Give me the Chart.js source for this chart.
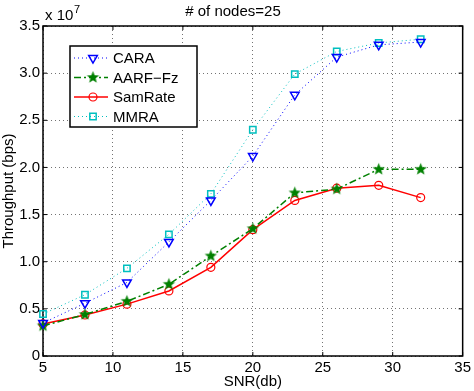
<!DOCTYPE html>
<html>
<head>
<meta charset="utf-8">
<script src="https://cdn.jsdelivr.net/npm/chart.js@4"></script>
<style>
  body { margin: 0; background: #fff; }
</style>
</head>
<body>
<canvas id="tputChart" width="474" height="391"></canvas>
<script>
// SNR (db) on the x axis, throughput in units of 1e7 bps
const snr = [5, 8, 11, 14, 17, 20, 23, 26, 29, 32];
const cara = [0.35, 0.56, 0.78, 1.21, 1.65, 2.12, 2.77, 3.17, 3.30, 3.33];
const aarfFz = [0.32, 0.44, 0.58, 0.76, 1.06, 1.35, 1.73, 1.77, 1.98, 1.98];
const samRate = [0.34, 0.435, 0.55, 0.69, 0.94, 1.34, 1.65, 1.78, 1.81, 1.68];
const mmra = [0.445, 0.65, 0.93, 1.29, 1.72, 2.40, 2.99, 3.23, 3.32, 3.36];

const xTicks = [5, 10, 15, 20, 25, 30, 35];
const yTicks = [0, 0.5, 1, 1.5, 2, 2.5, 3, 3.5];

const FONT = "'Liberation Sans', Arial, Helvetica, sans-serif";

//---------------------------------------------------
// Filled star marker (Chart.js "star" is only a cross)
//---------------------------------------------------
function makeStar(color, r) {
  const c = document.createElement("canvas");
  const s = Math.ceil(r * 2 + 2);
  c.width = s;
  c.height = s;
  const g = c.getContext("2d");
  g.fillStyle = color;
  g.beginPath();
  for (let i = 0; i < 10; i++) {
    const rad = i % 2 === 0 ? r : r * 0.42;
    const a = -Math.PI / 2 + (i * Math.PI) / 5;
    const px = s / 2 + rad * Math.cos(a);
    const py = s / 2 + rad * Math.sin(a);
    if (i === 0) g.moveTo(px, py);
    else g.lineTo(px, py);
  }
  g.closePath();
  g.fill();
  return c;
}

function pts(arr) {
  return snr.map((x, i) => ({ x: x, y: arr[i] }));
}

//---------------------------------------------------
// Plugins: box + inner ticks, legend, exponent label
//---------------------------------------------------
const matlabBox = {
  id: "matlabBox",
  beforeDatasetsDraw(chart) {
    const { ctx, chartArea: a, scales } = chart;
    ctx.save();
    ctx.strokeStyle = "#000";
    ctx.lineWidth = 1.5;
    ctx.setLineDash([]);
    ctx.strokeRect(a.left, a.top, a.right - a.left, a.bottom - a.top);
    ctx.lineWidth = 1;
    ctx.beginPath();
    xTicks.forEach((v) => {
      const px = scales.x.getPixelForValue(v);
      ctx.moveTo(px, a.bottom);
      ctx.lineTo(px, a.bottom - 4);
      ctx.moveTo(px, a.top);
      ctx.lineTo(px, a.top + 4);
    });
    yTicks.forEach((v) => {
      const py = scales.y.getPixelForValue(v);
      ctx.moveTo(a.left, py);
      ctx.lineTo(a.left + 4, py);
      ctx.moveTo(a.right, py);
      ctx.lineTo(a.right - 4, py);
    });
    ctx.stroke();
    ctx.restore();
  },
  afterDraw(chart) {
    const { ctx, chartArea: a } = chart;
    ctx.save();
    ctx.fillStyle = "#000";
    ctx.textBaseline = "alphabetic";
    ctx.font = "15px " + FONT;
    ctx.fillText("x 10", a.left + 2, a.top - 6);
    ctx.font = "11px " + FONT;
    ctx.fillText("7", a.left + 31, a.top - 13);
    ctx.restore();
  },
};

const boxLegend = {
  id: "boxLegend",
  afterDraw(chart) {
    const { ctx, chartArea: a } = chart;
    const x0 = a.left + 27;
    const y0 = a.top + 20;
    const w = 127;
    const h = 81;
    ctx.save();
    ctx.fillStyle = "#fff";
    ctx.fillRect(x0, y0, w, h);
    ctx.strokeStyle = "#000";
    ctx.lineWidth = 1.5;
    ctx.setLineDash([]);
    ctx.strokeRect(x0, y0, w, h);
    ctx.font = "15px " + FONT;
    ctx.textBaseline = "middle";
    chart.data.datasets.forEach((ds, i) => {
      const cy = y0 + 12 + i * 19.5;
      ctx.strokeStyle = ds.borderColor;
      ctx.lineWidth = ds.borderWidth;
      ctx.setLineDash(ds.borderDash || []);
      ctx.beginPath();
      ctx.moveTo(x0 + 4, cy);
      ctx.lineTo(x0 + 38, cy);
      ctx.stroke();
      ctx.setLineDash([]);
      ctx.strokeStyle = ds.pointBorderColor;
      ctx.fillStyle = ds.pointBackgroundColor;
      ctx.lineWidth = ds.pointBorderWidth;
      Chart.helpers.drawPoint(ctx, {
        pointStyle: ds.pointStyle,
        rotation: ds.pointRotation || 0,
        radius: ds.pointRadius,
        borderWidth: ds.pointBorderWidth,
      }, x0 + 23, cy);
      ctx.fillStyle = "#000";
      ctx.fillText(ds.label, x0 + 43, cy + 1);
    });
    ctx.restore();
  },
};

//---------------------------------------------------
// Chart
//---------------------------------------------------
const ctx = document.getElementById("tputChart");

const chart = new Chart(ctx, {
  type: "line",
  data: {
    datasets: [
      {
        label: "CARA",
        data: pts(cara),
        borderColor: "#0000ff",
        borderWidth: 1,
        borderDash: [1, 3],
        pointStyle: "triangle",
        pointRotation: 180,
        pointRadius: 5,
        pointBorderColor: "#0000ff",
        pointBackgroundColor: "rgba(0,0,0,0)",
        pointBorderWidth: 1.5,
      },
      {
        label: "AARF−Fz",
        data: pts(aarfFz),
        borderColor: "#008000",
        borderWidth: 1.5,
        borderDash: [7, 3, 2, 3],
        pointStyle: makeStar("#008000", 6.5),
        pointRadius: 6,
        pointBorderColor: "#008000",
        pointBackgroundColor: "#008000",
        pointBorderWidth: 1,
      },
      {
        label: "SamRate",
        data: pts(samRate),
        borderColor: "#ff0000",
        borderWidth: 1.5,
        borderDash: [],
        pointStyle: "circle",
        pointRadius: 4,
        pointBorderColor: "#ff0000",
        pointBackgroundColor: "rgba(0,0,0,0)",
        pointBorderWidth: 1.2,
      },
      {
        label: "MMRA",
        data: pts(mmra),
        borderColor: "#00bfbf",
        borderWidth: 1,
        borderDash: [1, 3],
        pointStyle: "rect",
        pointRadius: 4.5,
        pointBorderColor: "#00bfbf",
        pointBackgroundColor: "rgba(0,0,0,0)",
        pointBorderWidth: 1.5,
      },
    ],
  },
  options: {
    responsive: false,
    animation: false,
    devicePixelRatio: 1,
    clip: false,
    layout: { padding: { left: 0, right: 8, top: 0, bottom: 0 } },
    elements: { line: { tension: 0 } },
    plugins: {
      legend: { display: false },
      tooltip: { enabled: false },
      title: {
        display: true,
        text: "# of nodes=25",
        color: "#000",
        font: { family: FONT, size: 15, weight: "normal" },
        padding: { top: 3, bottom: 5 },
      },
    },
    scales: {
      x: {
        type: "linear",
        min: 5,
        max: 35,
        afterFit(scale) { scale.height = 35; },
        ticks: {
          stepSize: 5,
          color: "#000",
          padding: 3,
          maxRotation: 0,
          font: { family: FONT, size: 15 },
        },
        grid: { color: "rgba(0,0,0,0.55)", drawTicks: false, lineWidth: 1 },
        border: { display: false, dash: [1, 3] },
        title: {
          display: true,
          text: "SNR(db)",
          color: "#000",
          font: { family: FONT, size: 15 },
          padding: { top: 0, bottom: 0 },
        },
      },
      y: {
        min: 0,
        max: 3.5,
        afterFit(scale) { scale.width = 43; },
        ticks: {
          stepSize: 0.5,
          color: "#000",
          padding: 3,
          font: { family: FONT, size: 15 },
        },
        grid: { color: "rgba(0,0,0,0.55)", drawTicks: false, lineWidth: 1 },
        border: { display: false, dash: [1, 3] },
        title: {
          display: true,
          text: "Throughput (bps)",
          color: "#000",
          font: { family: FONT, size: 15 },
          padding: { top: 0, bottom: 0 },
        },
      },
    },
  },
  plugins: [matlabBox, boxLegend],
});
</script>
</body>
</html>
